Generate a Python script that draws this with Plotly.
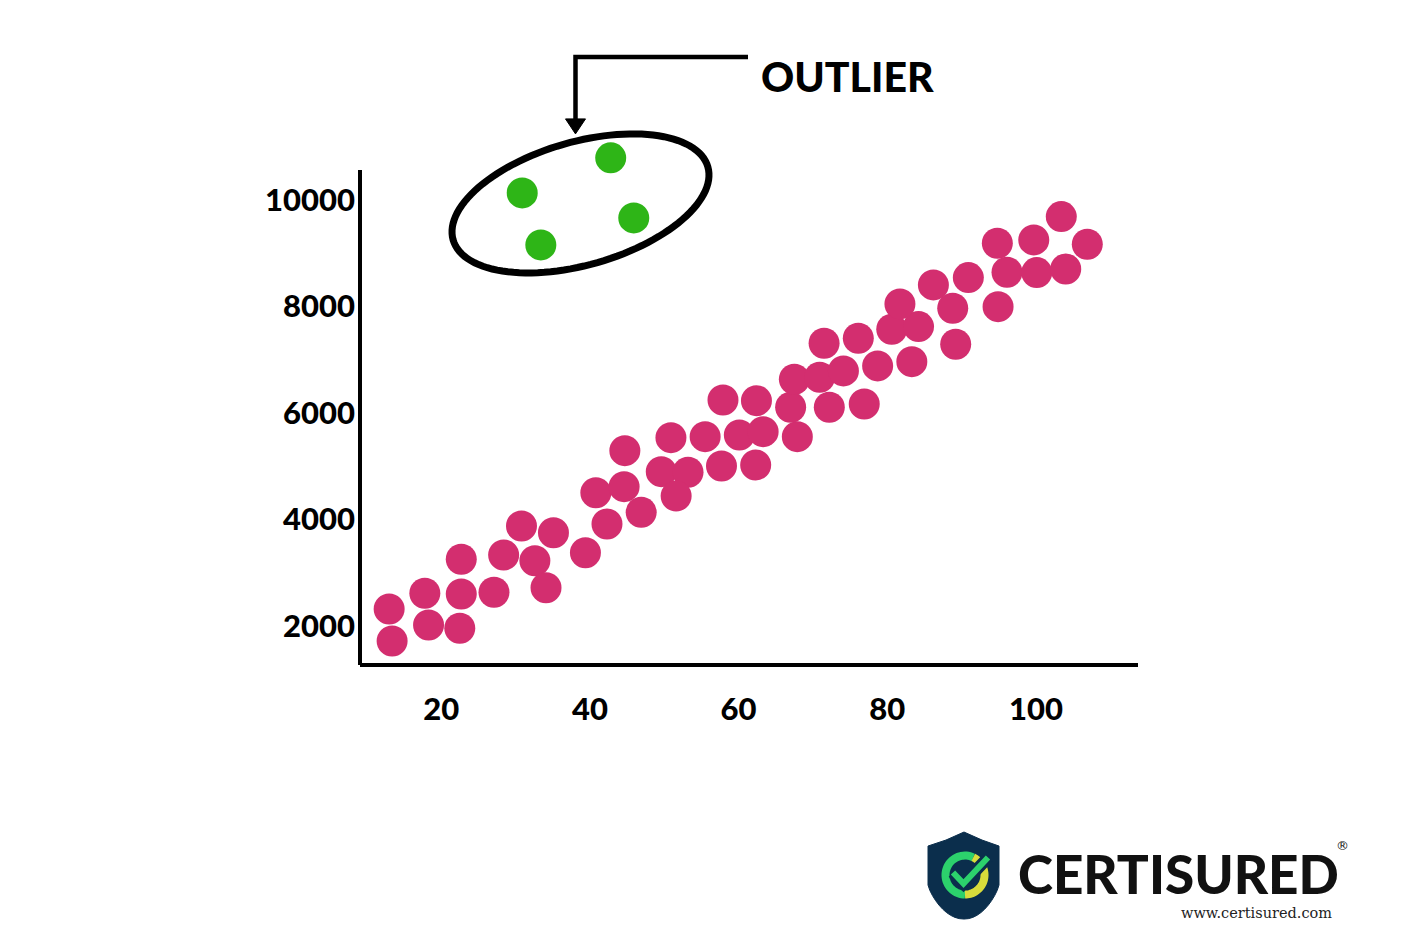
import math
import plotly.graph_objects as go

# ---------------- data ----------------
main_x = [13.0, 13.4, 17.8, 18.3, 22.7, 22.7, 22.5, 27.1, 28.4, 30.8, 32.6, 35.1, 34.1, 39.4,
          40.8, 42.3, 44.7, 44.6, 46.9, 50.9, 55.5, 49.6, 53.2, 51.6, 60.1, 63.3, 67.9, 57.7,
          62.3, 57.9, 62.4, 67.0, 72.2, 76.9, 67.5, 70.9, 74.1, 78.7, 83.3, 71.5, 76.1, 80.6,
          84.2, 81.7, 89.2, 86.2, 88.8, 90.9, 94.9, 94.8, 96.1, 99.7, 100.1, 103.4, 106.9, 104.0]
main_y = [2319, 1718, 2614, 2019, 3253, 2601, 1957, 2633, 3333, 3878, 3226, 3752, 2719, 3376,
          4503, 3915, 5292, 4616, 4135, 5536, 5555, 4898, 4886, 4441, 5587, 5649, 5555, 5005,
          5023, 6244, 6231, 6107, 6107, 6169, 6633, 6670, 6789, 6883, 6963, 7309, 7403, 7572,
          7621, 8047, 7290, 8404, 7966, 8541, 7996, 9187, 8642, 9249, 8635, 9686, 9168, 8704]
outlier_x = [30.9, 42.8, 45.9, 33.4]
outlier_y = [10131, 10789, 9662, 9155]

x_ticks = [20, 40, 60, 80, 100]
y_ticks = [2000, 4000, 6000, 8000, 10000]
x_range = [9.08, 113.72]
y_range = [1305, 11500]

MAGENTA = "#D32E6F"
GREEN = "#2EB517"
NAVY = "#0B2E4C"

W, H = 1403, 931
OFF = 8  # page body margin in the browser
# plot area in page pixels
L, R, T, B = 360, 1138, 120.1, 663


def P(px, py):
    return ((px - L) / (R - L), (B - py) / (B - T))


def path(points, close=False):
    s = ""
    for i, (px, py) in enumerate(points):
        x, y = P(px, py)
        s += ("M" if i == 0 else "L") + f"{x:.5f},{y:.5f} "
    if close:
        s += "Z"
    return s


fig = go.Figure()
fig.add_trace(go.Scatter(x=main_x, y=main_y, mode="markers",
                         marker=dict(size=31, color=MAGENTA, line=dict(width=0)),
                         cliponaxis=False, hoverinfo="skip"))
fig.add_trace(go.Scatter(x=outlier_x, y=outlier_y, mode="markers",
                         marker=dict(size=31, color=GREEN, line=dict(width=0)),
                         cliponaxis=False, hoverinfo="skip"))

shapes = []
# y axis line (visible part only)
shapes.append(dict(type="path", xref="paper", yref="paper",
                   path=path([(360, 170), (360, 665)]),
                   line=dict(color="black", width=4)))
# ellipse around outliers
cx, cy, a, b, th = 580.5, 203.5, 132.5, 61.5, math.radians(16.0)
ell = []
for i in range(121):
    t = 2 * math.pi * i / 120
    ex = cx + a * math.cos(t) * math.cos(th) - b * math.sin(t) * math.sin(th)
    ey = cy - (a * math.cos(t) * math.sin(th) + b * math.sin(t) * math.cos(th))
    ell.append((ex, ey))
shapes.append(dict(type="path", xref="paper", yref="paper", path=path(ell, True),
                   line=dict(color="black", width=7)))
# arrow
shapes.append(dict(type="path", xref="paper", yref="paper",
                   path=path([(748, 57), (575.5, 57), (575.5, 124)]),
                   line=dict(color="black", width=4.5)))
shapes.append(dict(type="path", xref="paper", yref="paper",
                   path=path([(565.5, 119), (585.5, 119), (575.5, 134)], True),
                   fillcolor="black", line=dict(color="black", width=1)))

# logo shield
shield = [(928, 846), (946, 840), (964, 832), (982, 840), (999, 846), (999, 885)]
for i in range(1, 11):
    t = i / 10
    shield.append((999 - 35 * t ** 1.3, 885 + 34 * math.sin(t * math.pi / 2)))
for i in range(1, 11):
    t = 1 - i / 10
    shield.append((928 + 36 * t ** 1.3, 885 + 34 * math.sin(t * math.pi / 2)))
shapes.append(dict(type="path", xref="paper", yref="paper", path=path(shield, True),
                   fillcolor=NAVY, line=dict(color=NAVY, width=1)))


def arc(c, r, a0, a1, n=40):
    pts = []
    for i in range(n + 1):
        ang = math.radians(a0 + (a1 - a0) * i / n)
        pts.append((c[0] + r * math.cos(ang), c[1] - r * math.sin(ang)))
    return pts


rc = (965, 875)
shapes.append(dict(type="path", xref="paper", yref="paper", path=path(arc(rc, 19.5, 65, 270)),
                   line=dict(color="#2CD16C", width=8)))
shapes.append(dict(type="path", xref="paper", yref="paper", path=path(arc(rc, 19.5, 65, -90)),
                   line=dict(color="#D8DC3B", width=8)))
check = [(953, 872.5), (963.5, 883.5), (988, 857.5)]
shapes.append(dict(type="path", xref="paper", yref="paper", path=path(check),
                   line=dict(color=NAVY, width=12)))
shapes.append(dict(type="path", xref="paper", yref="paper", path=path(check),
                   line=dict(color="#2CD16C", width=6)))

annotations = []


def txt(text, px, py, size, family, color="black", weight="normal", xanchor="center"):
    x, y = P(px, py)
    annotations.append(dict(text=text, x=x, y=y, xref="paper", yref="paper",
                            xanchor=xanchor, yanchor="middle", showarrow=False, borderpad=0,
                            font=dict(size=size, family=family, color=color, weight=weight)))


txt("OUTLIER", 847, 77, 41, "Lato", weight=900)
txt("CERTISURED", 1178, 873, 53, "Lato", color="#111111", weight=900)
txt("®", 1342, 845, 13, "DejaVu Sans", color="#111111")
txt("www.certisured.com", 1256, 913, 14.5, "DejaVu Serif", color="#222222")

tickfont = dict(size=31, family="Lato", color="black", weight=900)
fig.update_layout(
    width=W, height=H, autosize=False,
    margin=dict(l=L - OFF, r=W - (R - OFF), t=T - OFF, b=H - (B - OFF), pad=0),
    plot_bgcolor="white", paper_bgcolor="white",
    showlegend=False,
    shapes=shapes, annotations=annotations,
    xaxis=dict(range=x_range, tickvals=x_ticks, ticktext=[str(v) for v in x_ticks],
               showgrid=False, zeroline=False, showline=True, linecolor="black", linewidth=4,
               ticks="", tickfont=tickfont, ticklabelstandoff=16, fixedrange=True),
    yaxis=dict(range=y_range, tickvals=y_ticks, ticktext=[str(v) for v in y_ticks],
               showgrid=False, zeroline=False, showline=False,
               ticks="", tickfont=tickfont, ticklabelstandoff=4, fixedrange=True),
)

fig.write_html("out.html")
